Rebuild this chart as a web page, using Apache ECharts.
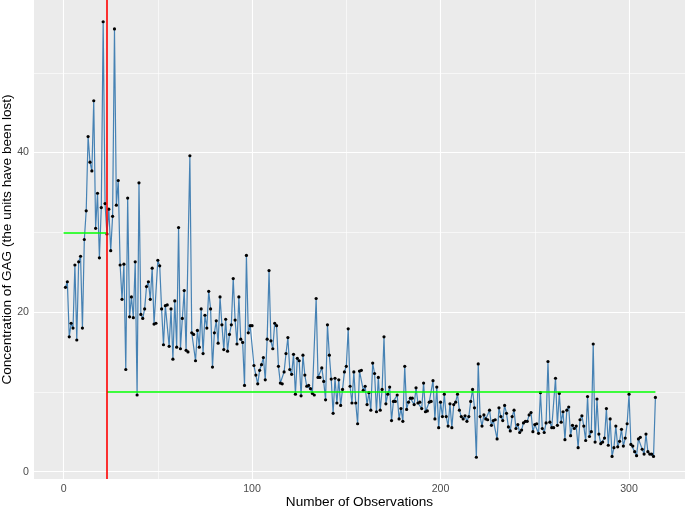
<!DOCTYPE html>
<html><head><meta charset="utf-8">
<script src="https://cdn.jsdelivr.net/npm/echarts@6/dist/echarts.min.js"></script>
<style>html,body{margin:0;padding:0;background:#fff}#c{width:685px;height:508px}</style>
</head><body><div id="c"></div>
<script>
// Concentration of GAG, observations 1..314
const gagValues = [
23.1, 23.8, 16.9, 18.6, 18.0, 25.9, 16.5, 26.3, 27.0, 18.0,
29.1, 32.7, 42.0, 38.8, 37.7, 46.5, 30.5, 34.9, 26.8, 33.1,
56.4, 33.6, 29.8, 32.9, 27.7, 32.0, 55.5, 33.4, 36.5, 25.9,
21.6, 26.0, 12.8, 34.3, 19.4, 21.9, 19.3, 26.3, 9.6, 36.2,
19.7, 19.2, 20.4, 23.2, 23.8, 21.6, 25.5, 18.5, 18.6, 26.5,
25.8, 20.4, 15.9, 20.8, 20.9, 15.7, 20.4, 14.1, 21.4, 15.6,
30.6, 15.4, 19.2, 22.7, 15.2, 15.0, 39.6, 17.4, 17.2, 13.9,
17.7, 15.6, 20.4, 14.8, 19.6, 18.0, 22.6, 20.4, 13.1, 17.4,
18.9, 16.1, 21.9, 18.4, 15.3, 19.1, 15.1, 17.2, 18.4, 24.2,
19.0, 16.0, 21.9, 16.6, 16.2, 10.8, 27.1, 17.4, 18.3, 18.3,
13.3, 12.1, 11.0, 12.7, 13.4, 14.3, 11.5, 16.6, 25.2, 16.4,
15.4, 18.6, 18.3, 13.2, 11.1, 11.0, 12.5, 14.8, 16.8, 12.8,
12.2, 14.7, 9.7, 14.2, 13.9, 9.5, 14.6, 12.1, 10.7, 10.8,
10.4, 9.8, 9.6, 21.7, 11.8, 11.8, 13.0, 11.3, 9.0, 18.4,
14.6, 11.6, 7.3, 11.7, 8.6, 11.5, 8.3, 10.3, 12.5, 13.2,
17.9, 10.7, 8.6, 12.5, 8.6, 6.0, 12.6, 12.7, 10.2, 10.7,
8.4, 9.9, 7.7, 13.6, 12.3, 7.5, 11.8, 7.7, 10.3, 16.9,
8.5, 9.7, 10.6, 6.4, 8.8, 8.8, 9.6, 6.6, 7.9, 6.3,
13.2, 7.8, 8.7, 9.2, 9.2, 8.4, 10.5, 8.6, 8.7, 7.9,
11.1, 7.5, 7.6, 8.7, 8.8, 11.4, 6.6, 10.6, 5.5, 8.7,
6.9, 9.7, 6.9, 5.7, 8.5, 5.5, 8.4, 8.7, 9.7, 7.7,
6.9, 6.6, 7.0, 6.3, 6.9, 8.8, 10.3, 8.0, 1.8, 13.5,
6.9, 5.7, 7.1, 6.6, 6.5, 7.7, 5.8, 6.4, 6.5, 4.1,
8.0, 6.9, 6.4, 8.3, 7.3, 5.6, 5.1, 6.9, 7.7, 5.4,
5.9, 4.9, 5.2, 6.1, 6.3, 6.3, 7.1, 7.4, 5.0, 5.9,
6.0, 4.8, 9.9, 5.4, 4.9, 6.1, 13.8, 6.2, 5.5, 5.5,
11.7, 5.8, 9.8, 6.2, 7.5, 4.0, 7.7, 8.1, 4.5, 5.8,
5.4, 5.7, 3.0, 6.5, 7.0, 5.7, 3.9, 9.4, 4.4, 5.0,
16.0, 3.7, 9.1, 4.7, 3.5, 3.7, 4.2, 7.9, 3.3, 6.6,
1.9, 3.0, 5.7, 3.1, 3.8, 5.3, 3.2, 4.2, 6.0, 9.7,
3.4, 3.2, 2.5, 2.0, 4.1, 4.3, 2.8, 2.2, 4.7, 2.5,
2.2, 2.2, 1.9, 9.3
];
const xTicks = [0, 100, 200, 300];
const xMinorGrid = [50, 150, 250];
const yTicks = [0, 20, 40];
const yMinorGrid = [10, 30, 50];
const changePoint = 23;
const segmentStart = 0;
const meanBefore = 30;
const meanAfter = 10;
const xTitle = 'Number of Observations';
const yTitle = 'Concentration of GAG (the units have been lost)';

const n = gagValues.length;
const points = gagValues.map((v, i) => [i + 1, v]);
const xLo = Math.min(segmentStart, 1), xHi = n;
const xPad = 0.05 * (xHi - xLo);
const yLo = Math.min(...gagValues), yHi = Math.max(...gagValues);
const yPad = 0.05 * (yHi - yLo);

const FONT = 'Liberation Sans';
const major = { color: '#FFFFFF', width: 1.1, type: 'solid' };
const minor = { color: '#FFFFFF', width: 0.6, type: 'solid' };
const gridLines = [].concat(
  xTicks.map(v => ({ xAxis: v, lineStyle: major })),
  xMinorGrid.map(v => ({ xAxis: v, lineStyle: minor })),
  yTicks.map(v => ({ yAxis: v, lineStyle: major })),
  yMinorGrid.map(v => ({ yAxis: v, lineStyle: minor }))
);

const chart = echarts.init(document.getElementById('c'), null, { renderer: 'canvas' });
chart.setOption({
  animation: false,
  grid: { left: 34, right: 0, top: 0, bottom: 29, show: true, backgroundColor: '#EBEBEB', borderWidth: 0,
          containLabel: false, outerBoundsMode: 'none' },
  xAxis: {
    type: 'value', min: xLo - xPad, max: xHi + xPad,
    name: xTitle, nameLocation: 'middle', nameGap: 16, nameMoveOverlap: false,
    nameTextStyle: { fontFamily: FONT, fontSize: 13.6, color: '#000' },
    axisLine: { show: false },
    axisTick: { show: true, length: 4, customValues: xTicks, lineStyle: { color: '#333333', width: 1 } },
    axisLabel: { customValues: xTicks, margin: 5, fontFamily: FONT, fontSize: 10.6, color: '#4D4D4D' },
    splitLine: { show: false }
  },
  yAxis: {
    type: 'value', min: yLo - yPad, max: yHi + yPad,
    name: yTitle, nameLocation: 'middle', nameGap: 19.5, nameRotate: 90, nameMoveOverlap: false,
    nameTextStyle: { fontFamily: FONT, fontSize: 13.6, color: '#000' },
    axisLine: { show: false },
    axisTick: { show: true, length: 4, customValues: yTicks, lineStyle: { color: '#333333', width: 1 } },
    axisLabel: { customValues: yTicks, margin: 5, fontFamily: FONT, fontSize: 10.6, color: '#4D4D4D' },
    splitLine: { show: false }
  },
  series: [
    {
      type: 'line', data: [], silent: true, z: 1,
      markLine: { silent: true, symbol: 'none', z: 1, animation: false, label: { show: false }, data: gridLines }
    },
    {
      type: 'line', data: points, z: 3,
      symbol: 'circle', symbolSize: 3.2, showAllSymbol: true,
      itemStyle: { color: '#000000' },
      lineStyle: { color: '#4682B4', width: 1.2 },
      emphasis: { disabled: true }
    },
    {
      type: 'line', data: [], silent: true, z: 4, color: '#00FF00',
      markLine: {
        silent: true, symbol: 'none', z: 5, animation: false, label: { show: false },
        lineStyle: { color: '#00FF00', width: 1.6, type: 'solid', opacity: 1 },
        emphasis: { disabled: true },
        data: [
          [{ coord: [segmentStart, meanBefore] }, { coord: [changePoint, meanBefore] }],
          [{ coord: [changePoint, meanAfter] }, { coord: [n, meanAfter] }]
        ]
      }
    },
    {
      type: 'line', data: [], silent: true, z: 4, color: '#FF0000',
      markLine: {
        silent: true, symbol: 'none', z: 6, animation: false, label: { show: false },
        lineStyle: { color: '#FF0000', width: 1.6, type: 'solid', opacity: 1 },
        emphasis: { disabled: true },
        data: [{ xAxis: changePoint }]
      }
    }
  ]
});
</script>
</body></html>
